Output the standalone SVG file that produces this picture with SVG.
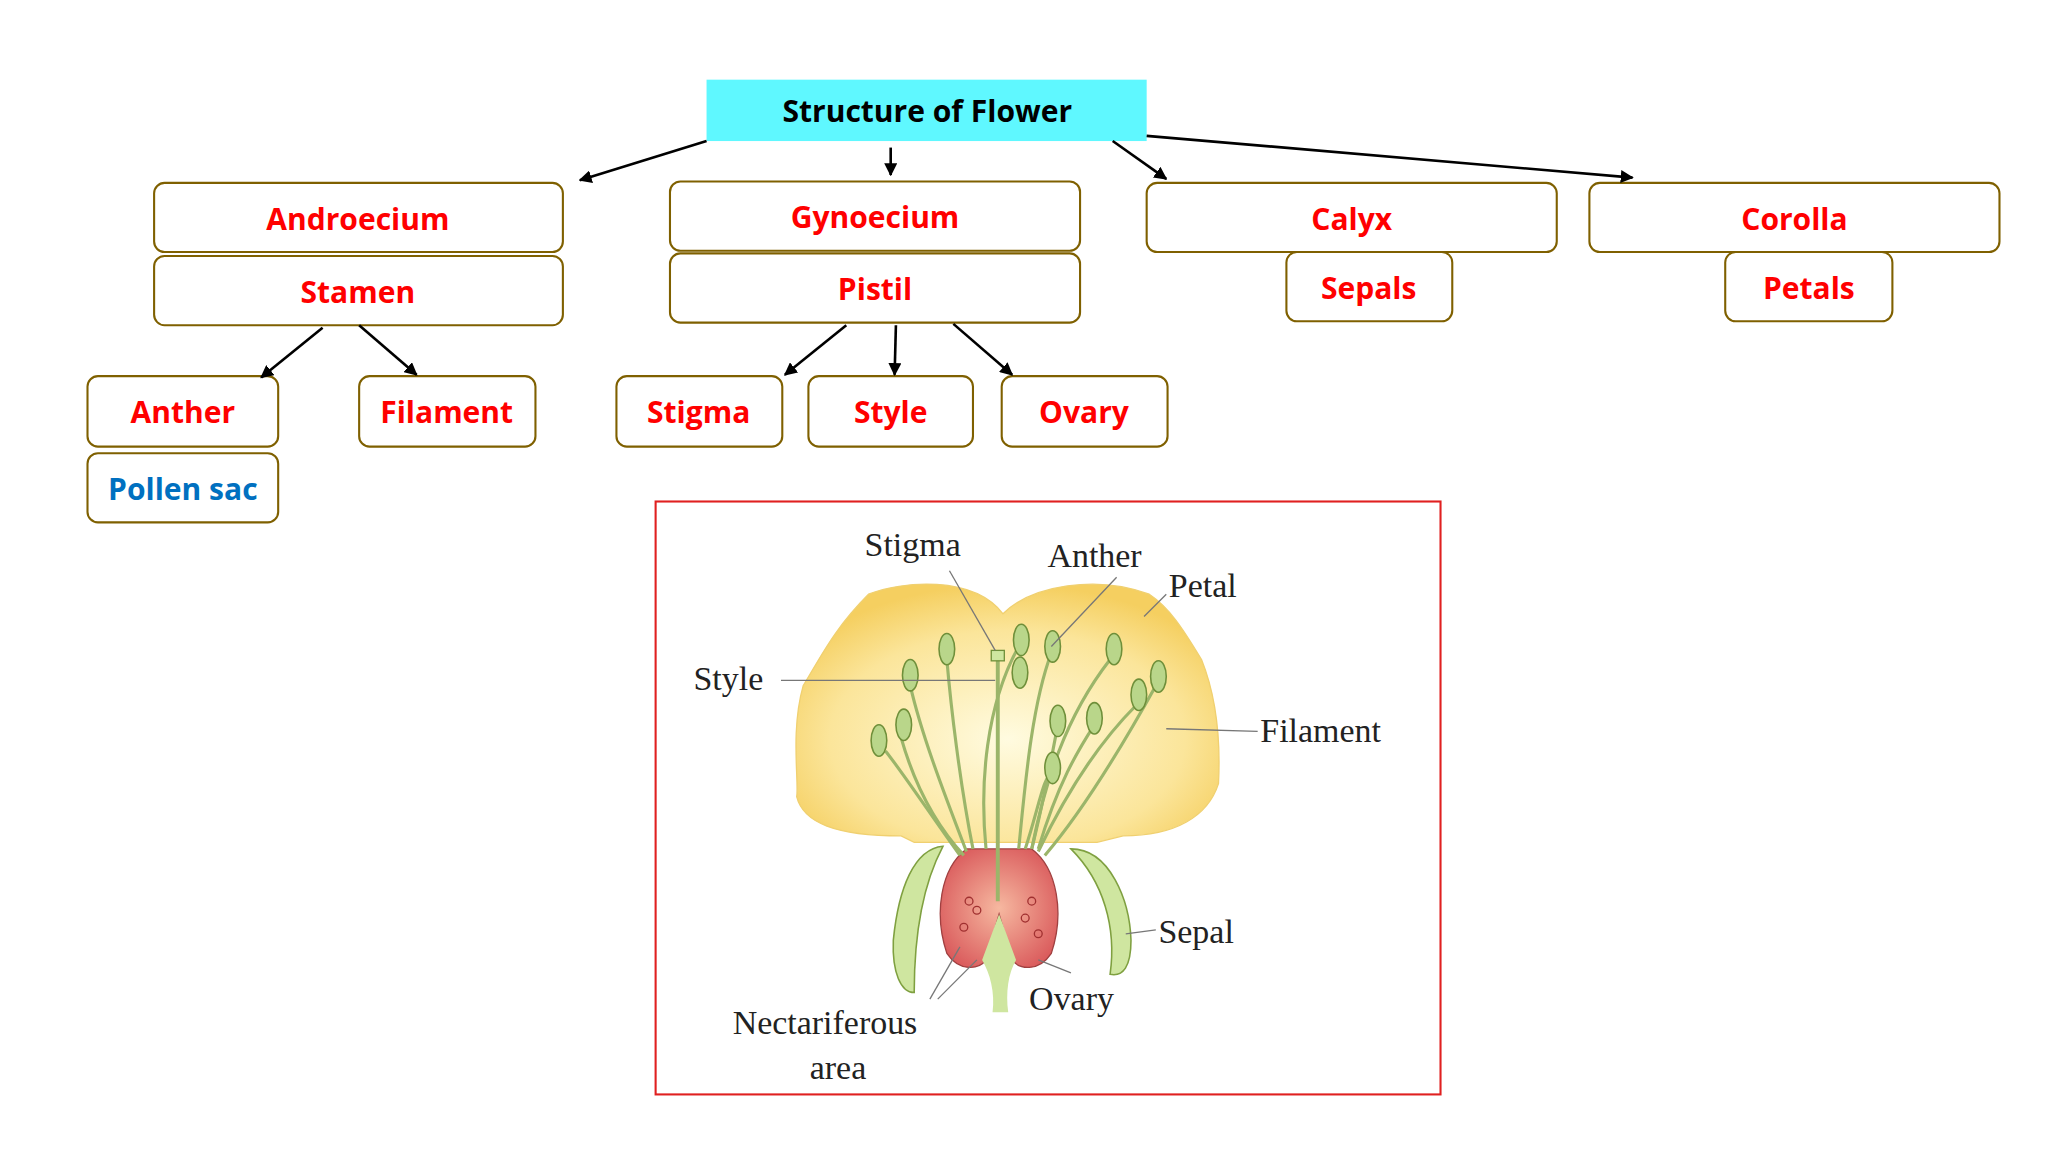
<svg xmlns="http://www.w3.org/2000/svg" width="2048" height="1152" viewBox="0 0 2048 1152">
<defs>
<style>
.box{fill:#fff;stroke:#7f6000;stroke-width:1.6}
.t{font-family:"Open Sans","Liberation Sans",sans-serif;font-weight:bold;font-size:23px;fill:#ff0000;text-anchor:middle;dominant-baseline:central}
.lbl{font-family:"Liberation Serif",serif;font-size:26px;fill:#222}
.con{stroke:#000;stroke-width:2;fill:none;marker-end:url(#ah)}
.fil{stroke:#9bb56a;stroke-width:2.4;fill:none}
.ant{fill:#b9d68a;stroke:#6f8f3a;stroke-width:1.2}
.lead{stroke:#777;stroke-width:1;fill:none}
</style>
<marker id="ah" viewBox="0 0 10 10" refX="9" refY="5" markerWidth="5" markerHeight="5" orient="auto"><path d="M0,0L10,5L0,10z" fill="#000"/></marker>
<radialGradient id="pg" cx="0.5" cy="0.6" r="0.6"><stop offset="0" stop-color="#fffbe0"/><stop offset="0.7" stop-color="#fbe59a"/><stop offset="1" stop-color="#f5cf60"/></radialGradient>
<radialGradient id="og" cx="0.5" cy="0.5" r="0.6"><stop offset="0" stop-color="#f6b8a0"/><stop offset="1" stop-color="#d9585a"/></radialGradient>
</defs>
<g transform="scale(1.306)">
<g id="root"><rect x="541" y="61" width="337" height="47" fill="#5ff8ff"/><text x="710" y="85" class="t" style="fill:#000">Structure of Flower</text></g>
<g id="androecium"><rect class="box" x="118" y="140" width="313" height="53" rx="8"/><text class="t" x="274" y="167">Androecium</text></g>
<g id="stamen"><rect class="box" x="118" y="196" width="313" height="53" rx="8"/><text class="t" x="274" y="223">Stamen</text></g>
<g id="gynoecium"><rect class="box" x="513" y="139" width="314" height="53" rx="8"/><text class="t" x="670" y="166">Gynoecium</text></g>
<g id="pistil"><rect class="box" x="513" y="194" width="314" height="53" rx="8"/><text class="t" x="670" y="221">Pistil</text></g>
<g id="calyx"><rect class="box" x="878" y="140" width="314" height="53" rx="8"/><text class="t" x="1035" y="167">Calyx</text></g>
<g id="sepals"><rect class="box" x="985" y="193" width="127" height="53" rx="8"/><text class="t" x="1048" y="220">Sepals</text></g>
<g id="corolla"><rect class="box" x="1217" y="140" width="314" height="53" rx="8"/><text class="t" x="1374" y="167">Corolla</text></g>
<g id="petals"><rect class="box" x="1321" y="193" width="128" height="53" rx="8"/><text class="t" x="1385" y="220">Petals</text></g>
<g id="anther"><rect class="box" x="67" y="288" width="146" height="54" rx="8"/><text class="t" x="140" y="315">Anther</text></g>
<g id="pollensac"><rect class="box" x="67" y="347" width="146" height="53" rx="8"/><text class="t" x="140" y="374" style="fill:#0070c0">Pollen sac</text></g>
<g id="filament"><rect class="box" x="275" y="288" width="135" height="54" rx="8"/><text class="t" x="342" y="315">Filament</text></g>
<g id="stigma"><rect class="box" x="472" y="288" width="127" height="54" rx="8"/><text class="t" x="535" y="315">Stigma</text></g>
<g id="style"><rect class="box" x="619" y="288" width="126" height="54" rx="8"/><text class="t" x="682" y="315">Style</text></g>
<g id="ovary"><rect class="box" x="767" y="288" width="127" height="54" rx="8"/><text class="t" x="830" y="315">Ovary</text></g>
<g id="connectors">
<line class="con" x1="541" y1="108" x2="444" y2="138"/>
<line class="con" x1="682" y1="113" x2="682" y2="134"/>
<line class="con" x1="852" y1="108" x2="893" y2="137"/>
<line class="con" x1="878" y1="104" x2="1250" y2="136"/>
<line class="con" x1="247" y1="251" x2="200" y2="289"/>
<line class="con" x1="275" y1="249" x2="319" y2="287"/>
<line class="con" x1="648" y1="249" x2="601" y2="287"/>
<line class="con" x1="686" y1="249" x2="685" y2="287"/>
<line class="con" x1="730" y1="248" x2="775" y2="287"/>
</g>
<g id="figure">
<rect x="502" y="384" width="601" height="454" fill="#fff" stroke="#e02020" stroke-width="1.6"/>
<path d="M768,470 C745,440 690,445 665,455 C640,480 630,500 615,525 C605,560 612,600 610,610 C615,630 640,640 690,640 L700,645 L840,645 L860,640 C900,640 925,625 933,600 C935,560 930,530 920,505 C905,480 895,465 880,455 C840,440 790,448 768,470Z" fill="url(#pg)" stroke="#f0d070" stroke-width="1"/>
<path d="M722,648 C700,650 688,680 684,720 C683,745 690,760 700,760 C700,720 705,680 722,648Z" fill="#cfe6a0" stroke="#7fa040" stroke-width="1.2"/>
<path d="M820,650 C850,650 865,690 866,720 C866,740 860,748 850,746 C855,710 845,675 820,650Z" fill="#cfe6a0" stroke="#7fa040" stroke-width="1.2"/>
<path d="M740,650 C720,665 715,700 725,730 C735,745 750,742 755,735 L765,700 L775,735 C780,742 795,745 805,730 C815,700 810,665 790,650Z" fill="url(#og)" stroke="#a04040" stroke-width="1"/>
<path d="M752,735 C758,745 762,760 760,775 L772,775 C770,760 772,745 778,735 L765,700Z" fill="#cfe6a0"/>
<g fill="none" stroke="#a03030" stroke-width="1"><circle cx="742" cy="690" r="3"/><circle cx="748" cy="697" r="3"/><circle cx="738" cy="710" r="3"/><circle cx="790" cy="690" r="3"/><circle cx="785" cy="703" r="3"/><circle cx="795" cy="715" r="3"/></g>
<line x1="764" y1="505" x2="764" y2="690" stroke="#9bb56a" stroke-width="3"/>
<rect x="759" y="498" width="10" height="8" fill="#cfe6a0" stroke="#6f8f3a"/>
<path class="fil" d="M745,650 C735,600 728,540 725,505"/>
<path class="fil" d="M740,652 C720,600 705,560 697,525"/>
<path class="fil" d="M735,655 C710,620 690,590 678,575"/>
<path class="fil" d="M738,655 C715,630 700,600 690,565"/>
<path class="fil" d="M755,650 C750,600 755,540 780,495"/>
<path class="fil" d="M780,650 C785,600 790,540 805,500"/>
<path class="fil" d="M790,650 C800,600 815,550 850,505"/>
<path class="fil" d="M795,652 C815,610 840,570 870,540"/>
<path class="fil" d="M800,655 C830,620 860,570 885,525"/>
<path class="fil" d="M785,650 C795,620 800,590 805,595"/>
<path class="fil" d="M790,650 C800,610 805,580 810,555"/>
<path class="fil" d="M795,650 C810,600 825,575 838,555"/>
<g class="ant">
<ellipse cx="725" cy="497" rx="6" ry="12"/><ellipse cx="697" cy="517" rx="6" ry="12"/><ellipse cx="673" cy="567" rx="6" ry="12"/><ellipse cx="692" cy="555" rx="6" ry="12"/>
<ellipse cx="782" cy="490" rx="6" ry="12"/><ellipse cx="781" cy="515" rx="6" ry="12"/><ellipse cx="806" cy="495" rx="6" ry="12"/><ellipse cx="853" cy="497" rx="6" ry="12"/>
<ellipse cx="872" cy="532" rx="6" ry="12"/><ellipse cx="887" cy="518" rx="6" ry="12"/><ellipse cx="810" cy="552" rx="6" ry="12"/><ellipse cx="838" cy="550" rx="6" ry="12"/><ellipse cx="806" cy="588" rx="6" ry="12"/>
</g>
<g class="lead">
<line x1="727" y1="437" x2="762" y2="498"/><line x1="855" y1="442" x2="805" y2="495"/><line x1="893" y1="455" x2="876" y2="472"/>
<line x1="598" y1="521" x2="762" y2="521"/><line x1="963" y1="560" x2="893" y2="558"/><line x1="885" y1="712" x2="862" y2="715"/>
<line x1="820" y1="745" x2="795" y2="735"/><line x1="712" y1="765" x2="735" y2="725"/><line x1="718" y1="765" x2="748" y2="735"/>
</g>
<text class="lbl" x="662" y="426">Stigma</text>
<text class="lbl" x="802" y="434">Anther</text>
<text class="lbl" x="895" y="457">Petal</text>
<text class="lbl" x="531" y="528">Style</text>
<text class="lbl" x="965" y="568">Filament</text>
<text class="lbl" x="887" y="722">Sepal</text>
<text class="lbl" x="788" y="773">Ovary</text>
<text class="lbl" x="561" y="792">Nectariferous</text>
<text class="lbl" x="620" y="826">area</text>
</g>
</g>
</svg>
